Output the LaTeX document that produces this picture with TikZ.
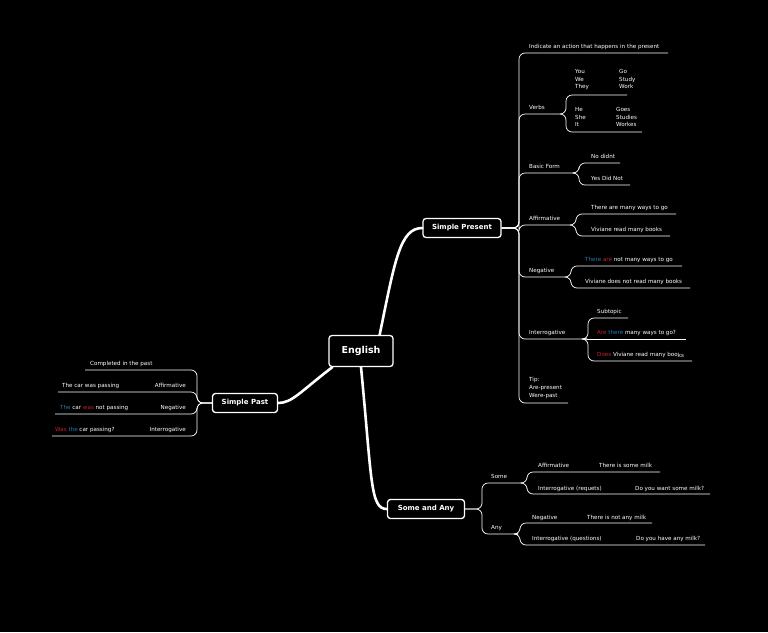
\documentclass[tikz,border=0pt]{standalone}
\usepackage{fontspec}
\setmainfont{DejaVu Sans}
\definecolor{bl}{RGB}{40,120,180}
\definecolor{rd}{RGB}{200,30,45}
\begin{document}
\begin{tikzpicture}[x=1pt,y=-1pt,
  leaf/.style={text=white,font=\fontsize{5.6}{7.8}\selectfont,inner sep=0,anchor=base west,align=left},
  leafm/.style={leaf,anchor=north west},
  leafr/.style={leaf,anchor=base east},
  conn/.style={draw=white,line width=0.7,rounded corners=6},
  topic/.style={draw=white,fill=black,line width=1.3,rounded corners=3,text=white,font=\bfseries\fontsize{7}{8}\selectfont,minimum height=19,inner xsep=6},
  thick/.style={draw=white,line width=2.6,line cap=round}]
\fill[black] (0,0) rectangle (768,632);
\useasboundingbox (0,0) rectangle (768,632);
% main
\node[topic,font=\bfseries\fontsize{9.5}{11}\selectfont,minimum width=64,minimum height=31] (eng) at (361,351) {English};
\node[topic,minimum width=78] (sp) at (462,228) {Simple Present};
\node[topic,minimum width=65] (past) at (245,403) {Simple Past};
\node[topic,minimum width=77] (sa) at (426,509) {Some and Any};
\draw[thick] (eng.north east)++(-14,0) .. controls (395,260) and (400,228) .. (sp.west);
\draw[thick] (eng.south west)++(4,0) .. controls (300,392) and (292,403) .. (past.east);
\draw[thick] (eng.south) .. controls (372,480) and (370,509) .. (sa.west);
% Simple Present branches
\draw[conn] (sp.east) -| (519,53) -- (668,53);
\draw[conn] (sp.east) -| (519,114) -- (560,114);
\draw[conn] (sp.east) -| (519,173) -- (575,173);
\draw[conn] (sp.east) -| (519,225) -- (570,225);
\draw[conn] (sp.east) -| (519,277) -- (565,277);
\draw[conn] (sp.east) -| (519,339) -- (587,339);
\draw[conn] (sp.east) -| (519,403) -- (568,403);
\node[leaf] (a1) at (529,48) {Indicate an action that happens in the present};
\node[leaf] (a2) at (529,109) {Verbs};
\node[leaf] (a3) at (529,168) {Basic Form};
\node[leaf] (a4) at (529,220) {Affirmative};
\node[leaf] (a5) at (529,272) {Negative};
\node[leaf] (a6) at (529,334) {Interrogative};
\node[leafm] (a7) at (529,377) {Tip:\\Are-present\\Were-past};
% verbs
\draw[conn] (560,114) -| (566,95) -- (627,95);
\draw[conn] (560,114) -| (566,132) -- (642,132);
\node[leafm] (v1) at (575,69) {You\\We\\They};
\node[leafm] (v2) at (619,69) {Go\\Study\\Work};
\node[leafm] (v3) at (575,107) {He\\She\\It};
\node[leafm] (v4) at (616,107) {Goes\\Studies\\Workes};
% basic form
\draw[conn] (575,173) -| (579,163) -- (620,163);
\draw[conn] (575,173) -| (579,185) -- (630,185);
\node[leaf] (b1) at (591,158) {No didnt};
\node[leaf] (b2) at (591,180) {Yes Did Not};
% affirmative
\draw[conn] (570,225) -| (576,214) -- (676,214);
\draw[conn] (570,225) -| (576,236) -- (670,236);
\node[leaf] (f1) at (591,209) {There are many ways to go};
\node[leaf] (f2) at (591,231) {Viviane read many books};
% negative
\draw[conn] (565,277) -| (571,266) -- (682,266);
\draw[conn] (565,277) -| (571,288) -- (690,288);
\node[leaf] (g1) at (585,261) {\textcolor{bl}{There} \textcolor{rd}{are} not many ways to go};
\node[leaf] (g2) at (585,283) {Viviane does not read many books};
% interrogative
\draw[conn] (587,339) -| (588,318) -- (628,318);
\draw[conn] (587,339) -- (686,339);
\draw[conn] (587,339) -| (588,361) -- (692,361);
\node[leaf] (i1) at (597,313) {Subtopic};
\node[leaf] (i2) at (597,334) {\textcolor{rd}{Are} \textcolor{bl}{there} many ways to go?};
\node[leaf] (i3) at (597,356) {\textcolor{rd}{Does} Viviane read many boo\raisebox{-1pt}{ks}};
% Simple past
\draw[conn] (past.west) -| (197,370) -- (85,370);
\draw[conn] (past.west) -| (197,392) -- (58,392);
\draw[conn] (past.west) -| (197,414) -- (55,414);
\draw[conn] (past.west) -| (197,436) -- (52,436);
\node[leaf] (p1) at (90,365) {Completed in the past};
\node[leaf] (p2) at (62,387) {The car was passing};
\node[leafr] (p2b) at (186,387) {Affirmative};
\node[leaf] (p3) at (60,409) {\textcolor{bl}{The} car \textcolor{rd}{was} not passing};
\node[leafr] (p3b) at (186,409) {Negative};
\node[leaf] (p4) at (55,431) {\textcolor{rd}{Was} \textcolor{bl}{the} car passing?};
\node[leafr] (p4b) at (186,431) {Interrogative};
% Some and any
\draw[conn] (sa.east) -| (482,483) -- (522,483);
\draw[conn] (sa.east) -| (482,534) -- (518,534);
\node[leaf] (s1) at (491,478) {Some};
\node[leaf] (s2) at (491,529) {Any};
\draw[conn] (522,483) -| (527,472) -- (660,472);
\draw[conn] (522,483) -| (527,494) -- (710,494);
\draw[conn] (518,534) -| (520,523) -- (652,523);
\draw[conn] (518,534) -| (520,545) -- (705,545);
\node[leaf] (m1) at (538,467) {Affirmative};
\node[leaf] (m2) at (599,467) {There is some milk};
\node[leaf] (m3) at (538,490) {Interrogative (requets)};
\node[leaf] (m4) at (635,490) {Do you want some milk?};
\node[leaf] (m5) at (532,519) {Negative};
\node[leaf] (m6) at (587,519) {There is not any milk};
\node[leaf] (m7) at (532,540) {Interrogative (questions)};
\node[leaf] (m8) at (636,540) {Do you have any milk?};
\end{tikzpicture}
\end{document}
